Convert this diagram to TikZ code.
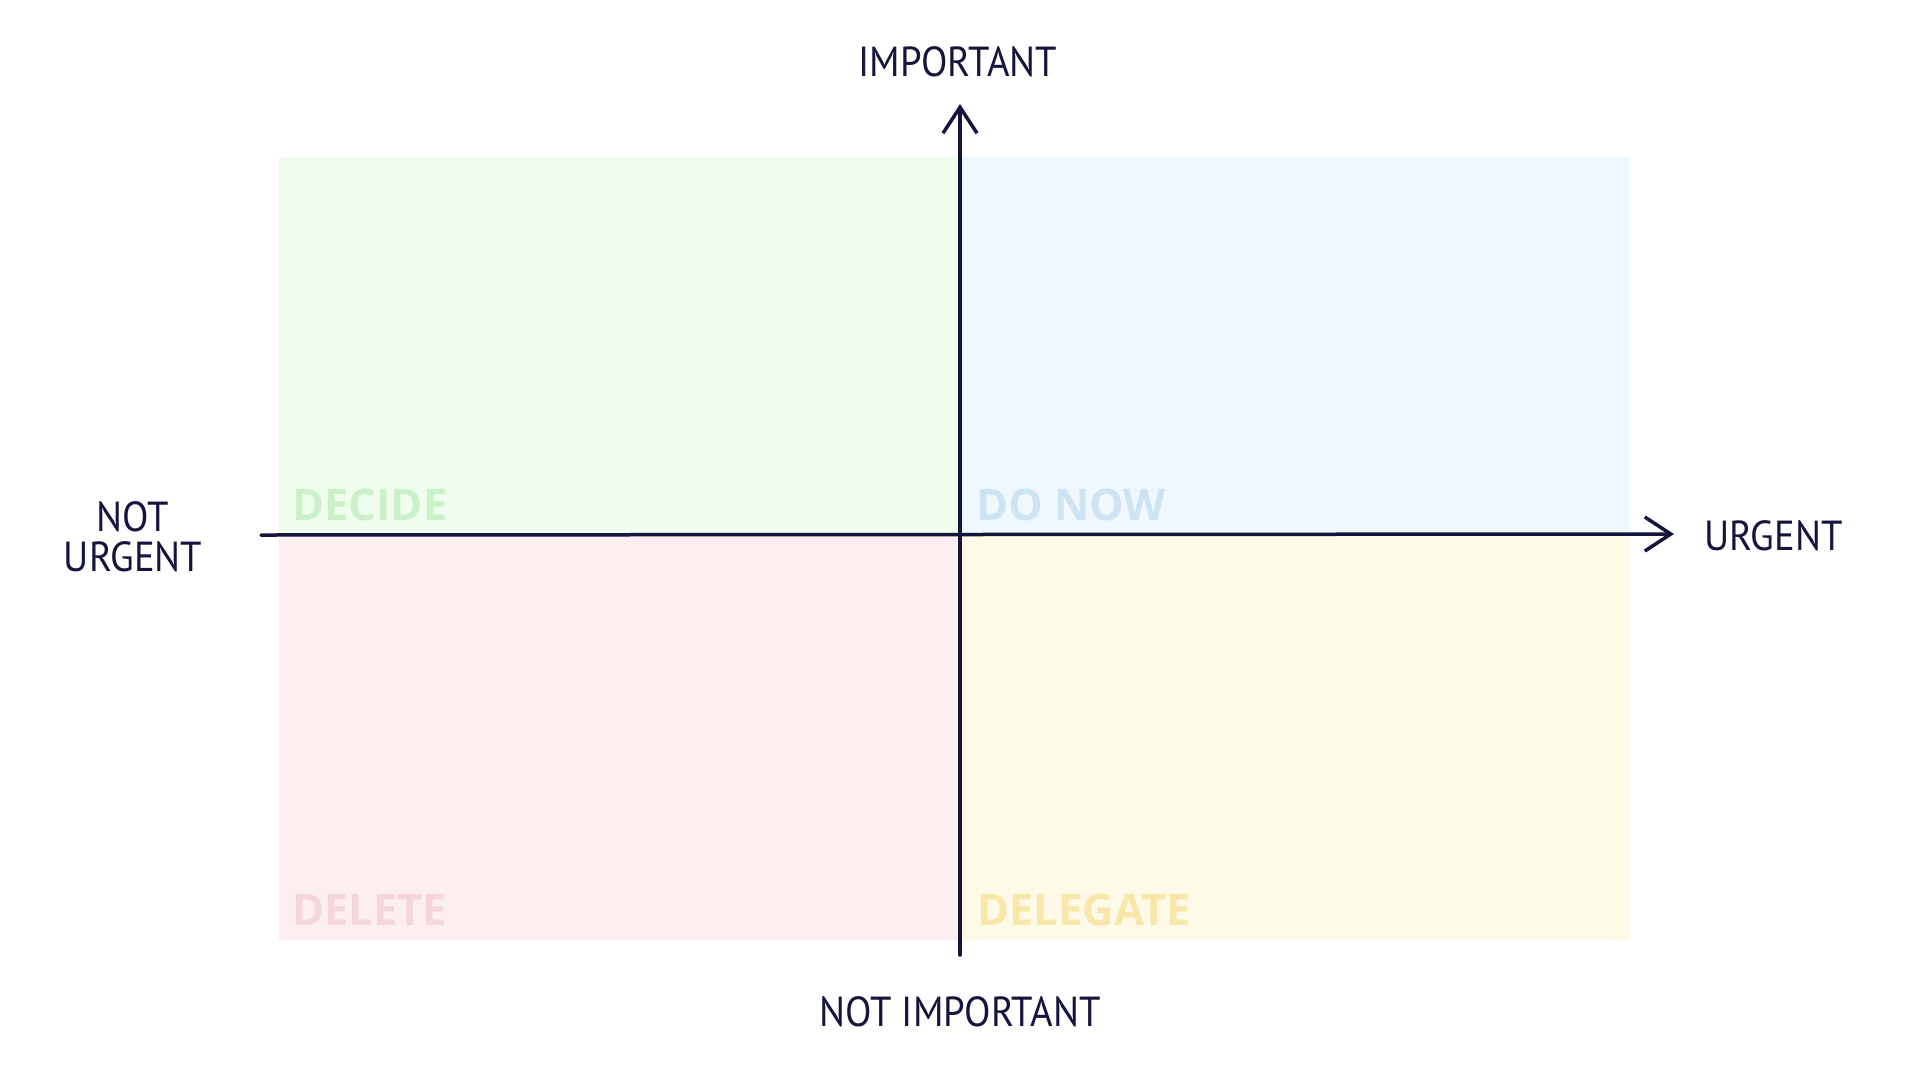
\documentclass[tikz,border=0pt]{standalone}
\usepackage{fontspec}
\setmainfont{PT Sans}[FakeStretch=0.92]
\newfontfamily\quadfont{Open Sans}
\usetikzlibrary{positioning,arrows.meta}

\definecolor{inkline}{HTML}{14143C}
\definecolor{decidefill}{HTML}{EEFDEC}
\definecolor{donowfill}{HTML}{EFF7FF}
\definecolor{deletefill}{HTML}{FDEFEF}
\definecolor{delegatefill}{HTML}{FFF9E7}
\definecolor{decidetext}{HTML}{CCF1CA}
\definecolor{donowtext}{HTML}{CDE4F5}
\definecolor{deletetext}{HTML}{F5D6D9}
\definecolor{delegatetext}{HTML}{F8E7A8}

\tikzset{
    axis/.style={draw=inkline, line width=3.5pt, line cap=round, line join=round,
        -{Straight Barb[length=26pt, width=34pt]}},
    axislabel/.style={text=inkline, font=\fontsize{42}{40}\selectfont, inner sep=0pt},
    quadlabel/.style={font=\quadfont\bfseries\fontsize{43.5}{48}\selectfont, inner sep=0pt, anchor=base west}
}

\begin{document}
\begin{tikzpicture}[x=1pt, y=-1pt]
    \useasboundingbox (0,0) rectangle (1920,1080);
    % Quadrants
    \fill[decidefill] (279,157) rectangle (961,534);
    \fill[donowfill] (961,157) rectangle (1630,534);
    \fill[deletefill] (279,534) rectangle (961,940);
    \fill[delegatefill] (961,534) rectangle (1630,940);
    \node[quadlabel, text=decidetext] (decide) at (292,520) {DECIDE};
    \node[quadlabel, text=donowtext] (donow) at (976,520) {DO NOW};
    \node[quadlabel, text=deletetext] (delete) at (292,925) {DELETE};
    \node[quadlabel, text=delegatetext] (delegate) at (977,925) {DELEGATE};

    % Axes
    \coordinate (left) at (261,535);
    \coordinate (right) at (1674,534);
    \coordinate (bottom) at (960,955);
    \coordinate (top) at (960,104);
    \draw[axis] (left) -- (right);
    \draw[axis] (bottom) -- (top);

    % Labels
    \node[axislabel, anchor=base] (important) at (958,76) {IMPORTANT};
    \node[axislabel, anchor=base] (notimportant) at (960,1026) {NOT IMPORTANT};
    \node[axislabel, anchor=base west] (urgent) at (1704,550) {URGENT};
    \node[axislabel, align=center] (noturgent) at (133,537) {NOT\\URGENT};
\end{tikzpicture}
\end{document}
